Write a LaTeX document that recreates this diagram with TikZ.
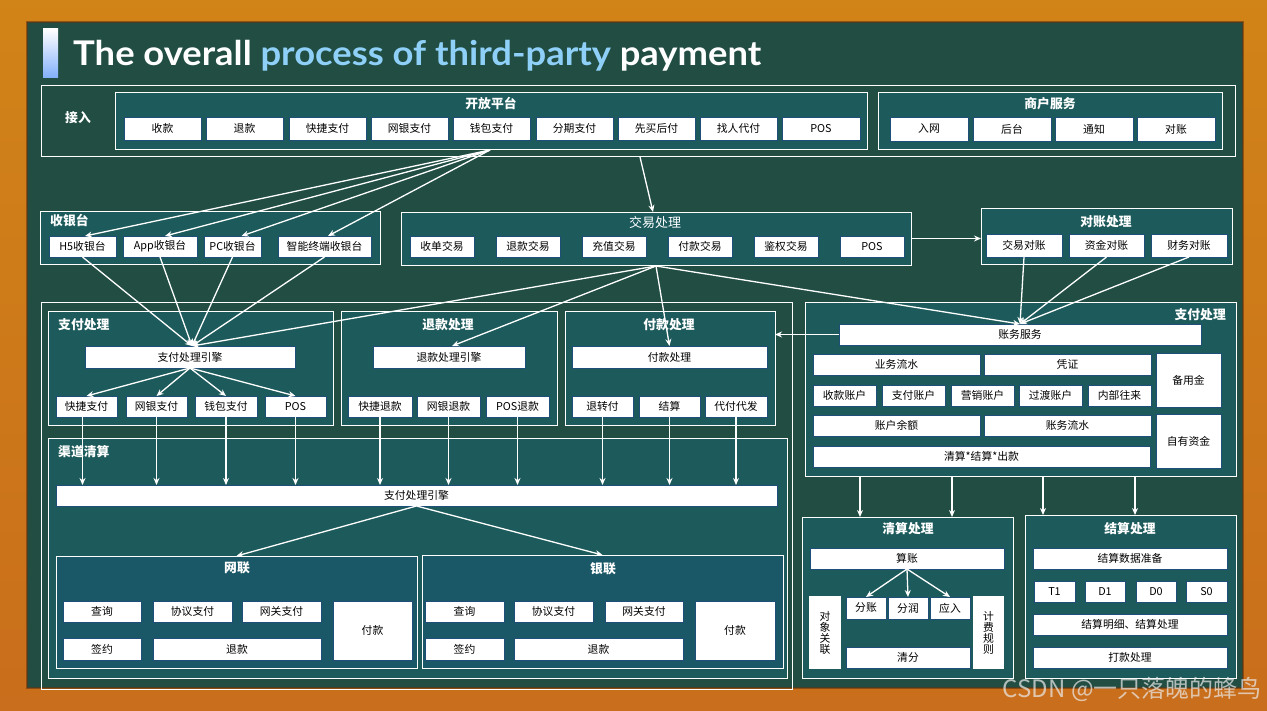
\documentclass[tikz,border=0pt]{standalone}
\usepackage{fontspec}
\setmainfont{Noto Sans CJK SC}
\newfontfamily\titlefont{Lato}
\usetikzlibrary{arrows.meta}
\definecolor{wood}{HTML}{C96E1C}
\definecolor{wooddark}{HTML}{A9561A}
\definecolor{board}{HTML}{214D43}
\definecolor{sect}{HTML}{1D5A5C}
\definecolor{sectb}{HTML}{1A5868}
\definecolor{bborder}{HTML}{1F4E79}
\definecolor{ltblue}{HTML}{8FD0F8}
\tikzset{
 btn/.style={draw=bborder, line width=0.8pt, fill=white, inner sep=0pt, outer sep=0pt, text=black, align=center, font=\fontsize{10.8}{11.5}\selectfont},
 grp/.style={draw=white, line width=0.9pt, fill=sect, inner sep=0pt, outer sep=0pt},
 grpb/.style={grp, fill=sectb},
 outbox/.style={draw=white, line width=0.9pt, inner sep=0pt, outer sep=0pt},
 ttl/.style={text=white, font=\fontsize{12.8}{14}\selectfont\bfseries, inner sep=0pt},
 vtext/.style={btn, draw=none, font=\fontsize{10.8}{11}\selectfont},
 arr/.style={draw=white, line width=1.3pt, -{Stealth[length=7pt,width=6pt]}},
}
\newcommand\bx[7][btn]{\node[#1, minimum width={(#5)-(#3)}, minimum height={(#6)-(#4)}] (#2) at ({((#3)+(#5))/2},{((#4)+(#6))/2}) {#7};}
\begin{document}
\begin{tikzpicture}[x=1pt,y=-1pt]
\useasboundingbox (0,0) rectangle (1267,711);
% frame and board
\shade[top color=wood!85!yellow, bottom color=wood] (0,0) rectangle (1267,711);
\fill[board] (27,22) rectangle (1243,688);
\draw[wooddark!60!black, line width=2pt, opacity=0.6] (27,22) rectangle (1243,688);
% title
\shade[top color=white, bottom color=ltblue!80!blue!90] (43,29) rectangle (58,78);
\node[anchor=base west, inner sep=0pt, font=\titlefont\bfseries\fontsize{34}{38}\selectfont, text=white] (title) at (73,66) {\scalebox{1.07}[1]{The overall \textcolor{ltblue}{process of third-party} payment}};

% ---------- top row ----------
\bx[outbox]{top}{41}{85}{1235}{156}{}
\node[ttl] (jieru) at (78,118) {接入};
\bx[grp]{open}{115}{92}{867}{149}{}
\node[ttl] (openT) at (491,104) {开放平台};
\bx{o1}{124}{117}{201}{140}{收款}
\bx{o2}{206}{117}{283}{140}{退款}
\bx{o3}{289}{117}{366}{140}{快捷支付}
\bx{o4}{371}{117}{448}{140}{网银支付}
\bx{o5}{453}{117}{530}{140}{钱包支付}
\bx{o6}{536}{117}{613}{140}{分期支付}
\bx{o7}{618}{117}{695}{140}{先买后付}
\bx{o8}{700}{117}{777}{140}{找人代付}
\bx{o9}{782}{117}{860}{140}{POS}
\bx[grp]{merch}{878}{92}{1222}{149}{}
\node[ttl] (merchT) at (1050,104) {商户服务};
\bx{m1}{890}{117}{968}{141}{入网}
\bx{m2}{973}{117}{1051}{141}{后台}
\bx{m3}{1055}{117}{1133}{141}{通知}
\bx{m4}{1137}{117}{1215}{141}{对账}

% ---------- second row ----------
\bx[grp]{cash}{40}{211}{380}{264}{}
\node[ttl, anchor=west] (cashT) at (50,221) {收银台};
\bx{h5}{49}{236}{116}{257}{H5收银台}
\bx{app}{123}{236}{197}{257}{App收银台}
\bx{pc}{204}{236}{261}{257}{PC收银台}
\bx{smart}{278}{236}{371}{257}{智能终端收银台}

\bx[grp]{trade}{401}{212}{911}{265}{}
\node[text=white, inner sep=0pt, font=\fontsize{13}{14}\selectfont] (tradeT) at (655,223) {交易处理};
\bx{t1}{410}{236}{474}{257}{收单交易}
\bx{t2}{496}{236}{560}{257}{退款交易}
\bx{t3}{582}{236}{646}{257}{充值交易}
\bx{t4}{668}{236}{732}{257}{付款交易}
\bx{t5}{754}{236}{818}{257}{鉴权交易}
\bx{t6}{840}{236}{904}{257}{POS}

\bx[grp]{recon}{981}{208}{1232}{264}{}
\node[ttl] (reconT) at (1106,222) {对账处理};
\bx{r1}{986}{234}{1062}{257}{交易对账}
\bx{r2}{1069}{234}{1144}{257}{资金对账}
\bx{r3}{1151}{234}{1227}{257}{财务对账}

% ---------- left lower ----------
\bx[outbox]{left}{41}{302}{792}{689}{}
\bx[grp]{pay}{48}{311}{333}{425}{}
\node[ttl, anchor=west] (payT) at (58,325) {支付处理};
\bx{eng}{85}{346}{295}{368}{支付处理引擎}
\bx{pb1}{56}{396}{117}{417}{快捷支付}
\bx{pb2}{126}{396}{187}{417}{网银支付}
\bx{pb3}{195}{396}{257}{417}{钱包支付}
\bx{pb4}{265}{396}{326}{417}{POS}

\bx[grp]{ref}{341}{311}{557}{425}{}
\node[ttl] (refT) at (448,325) {退款处理};
\bx{reng}{373}{346}{525}{368}{退款处理引擎}
\bx{rb1}{348}{396}{412}{417}{快捷退款}
\bx{rb2}{417}{396}{480}{417}{网银退款}
\bx{rb3}{486}{396}{549}{417}{POS退款}

\bx[grp]{payout}{565}{311}{775}{425}{}
\node[ttl] (payoutT) at (669,325) {付款处理};
\bx{peng}{572}{346}{767}{368}{付款处理}
\bx{qb1}{572}{396}{633}{417}{退转付}
\bx{qb2}{639}{396}{700}{417}{结算}
\bx{qb3}{705}{396}{767}{417}{代付代发}

\bx[grp]{chan}{48}{438}{787}{678}{}
\node[ttl, anchor=west] (chanT) at (58,452) {渠道清算};
\bx{bar}{56}{485}{777}{506}{支付处理引擎}

\bx[grpb]{wl}{56}{556}{417}{668}{}
\node[ttl] (wlT) at (237,568) {网联};
\bx{w1}{63}{601}{141}{622}{查询}
\bx{w2}{153}{601}{232}{622}{协议支付}
\bx{w3}{242}{601}{321}{622}{网关支付}
\bx{w4}{333}{601}{412}{660}{付款}
\bx{w5}{63}{638}{141}{660}{签约}
\bx{w6}{153}{638}{321}{660}{退款}

\bx[grpb]{yl}{422}{555}{783}{668}{}
\node[ttl] (ylT) at (603,569) {银联};
\bx{y1}{425}{601}{504}{622}{查询}
\bx{y2}{514}{601}{593}{622}{协议支付}
\bx{y3}{605}{601}{683}{622}{网关支付}
\bx{y4}{695}{601}{775}{660}{付款}
\bx{y5}{425}{638}{504}{660}{签约}
\bx{y6}{514}{638}{683}{660}{退款}

% ---------- right lower ----------
\bx[grp]{rpay}{805}{302}{1236}{476}{}
\node[ttl, anchor=east] (rpayT) at (1226,315) {支付处理};
\bx{acct}{839}{324}{1201}{345}{账务服务}
\bx{a1}{813}{354}{980}{375}{业务流水}
\bx{a2}{984}{354}{1151}{375}{凭证}
\bx{a3}{1156}{353}{1221}{407}{备用金}
\bx{a4}{813}{385}{876}{406}{收款账户}
\bx{a5}{882}{385}{945}{406}{支付账户}
\bx{a6}{951}{385}{1014}{406}{营销账户}
\bx{a7}{1019}{385}{1082}{406}{过渡账户}
\bx{a8}{1088}{385}{1151}{406}{内部往来}
\bx{a9}{813}{415}{980}{436}{账户余额}
\bx{a10}{984}{415}{1151}{436}{账务流水}
\bx{a11}{1156}{414}{1221}{468}{自有资金}
\bx{a12}{813}{446}{1150}{467}{清算*结算*出款}

\bx[grp]{clear}{802}{517}{1013}{678}{}
\node[ttl] (clearT) at (908,529) {清算处理};
\bx{suan}{810}{548}{1004}{569}{算账}
\bx{fz}{846}{597}{886}{619}{分账}
\bx{fr}{888}{597}{928}{619}{分润}
\bx{yr}{930}{597}{970}{619}{应入}
\bx[vtext]{dx}{809}{596}{841}{669}{对\\象\\关\\联}
\bx[vtext]{jf}{973}{596}{1004}{669}{计\\费\\规\\则}
\bx{qf}{846}{647}{970}{668}{清分}

\bx[grp]{settle}{1025}{515}{1236}{678}{}
\node[ttl] (settleT) at (1130,529) {结算处理};
\bx{s1}{1033}{548}{1227}{569}{结算数据准备}
\bx{s2}{1034}{581}{1075}{602}{T1}
\bx{s3}{1085}{581}{1125}{602}{D1}
\bx{s4}{1136}{581}{1176}{602}{D0}
\bx{s5}{1186}{581}{1227}{602}{S0}
\bx{s6}{1033}{614}{1227}{635}{结算明细、结算处理}
\bx{s7}{1033}{647}{1227}{668}{打款处理}

% ---------- connectors ----------
\coordinate (c1) at (490,150);
\coordinate (c2) at (640,157);
\coordinate (c3) at (656,266);
\draw[arr] (c1) -- ([xshift=2.5pt]h5.north);
\draw[arr] (c1) -- ([xshift=5pt]app.north);
\draw[arr] (c1) -- ([xshift=9pt]pc.north);
\draw[arr] (c1) -- ([xshift=3.5pt]smart.north);
\draw[arr] (c2) -- ([xshift=-3pt]trade.north);
\draw[arr] (trade.east) -- (trade.east -| recon.west);

\coordinate (engN) at ([xshift=2pt]eng.north);
\foreach \s in {h5,app,pc,smart} \draw[arr] (\s.south) -- (engN);
\draw[arr] (c3) -- (engN);
\draw[arr] (c3) -- ([xshift=3pt]reng.north);
\draw[arr] (c3) -- (peng.north);
\coordinate (acctN) at (acct.north);
\draw[arr] (c3) -- (acctN);
\foreach \s in {r1,r2,r3} \draw[arr] (\s.south) -- (acctN);
\draw[arr] (acct.west) -- (acct.west -| payout.east);

\foreach \s in {pb1,pb2,pb3,pb4} \draw[arr] (eng.south) -- (\s.north);
\draw[arr] ([xshift=-4pt]pb1.south) -- ([xshift=-4pt]pb1.south |- bar.north);
\foreach \s in {pb2,pb3,pb4,rb1,rb2,rb3,qb1,qb2,qb3} \draw[arr] (\s.south) -- (\s.south |- bar.north);
\draw[arr] (bar.south) -- (wl.north);
\draw[arr] (bar.south) -- (yl.north);

\foreach \dx/\t in {-160.5/clear,-68.5/clear,22.5/settle,114.5/settle}
  \draw[arr] ([xshift=\dx pt]rpay.south) -- ([xshift=\dx pt]rpay.south |- \t.north);
\foreach \s in {fz,fr,yr} \draw[arr] (suan.south) -- (\s.north);

% watermark
\node[anchor=east, text=white!85!gray, opacity=0.7, inner sep=0pt, font=\fontsize{24}{26}\selectfont] (wm) at (1262,689) {CSDN @一只落魄的蜂鸟};
\end{tikzpicture}
\end{document}
